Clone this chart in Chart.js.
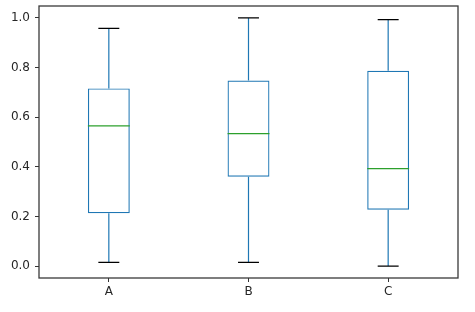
<!DOCTYPE html>
<html>
<head>
<meta charset="utf-8">
<script src="https://cdn.jsdelivr.net/npm/chart.js@4"></script>
<style>
  body { margin: 0; background: #fff; }
</style>
</head>
<body>
<canvas id="myChart" width="475" height="312"></canvas>
<script>
// box plot values
var categories = ['A', 'B', 'C']
var whiskerLow = [0.015, 0.015, 0.0]
var q1 = [0.213, 0.360, 0.227]
var median = [0.565, 0.534, 0.393]
var q3 = [0.716, 0.748, 0.787]
var whiskerHigh = [0.958, 1.0, 0.993]
var yTicks = [0.0, 0.2, 0.4, 0.6, 0.8, 1.0]

var boxColor = '#1f77b4', medianColor = '#2ca02c', capColor = '#000000'

// whiskers, caps and medians drawn on top of the floating bars
const boxParts = {
  id: 'boxParts',
  afterDatasetsDraw(chart) {
    const ctx = chart.ctx
    const x = chart.scales.x, y = chart.scales.y
    const meta = chart.getDatasetMeta(0)
    ctx.save()
    ctx.lineWidth = 1.2
    categories.forEach((c, i) => {
      const bar = meta.data[i]
      const cx = x.getPixelForValue(i)
      const half = bar.width / 2
      const capHalf = half / 2
      // whiskers
      ctx.strokeStyle = boxColor
      ctx.beginPath()
      ctx.moveTo(cx, y.getPixelForValue(q1[i]))
      ctx.lineTo(cx, y.getPixelForValue(whiskerLow[i]))
      ctx.moveTo(cx, y.getPixelForValue(q3[i]))
      ctx.lineTo(cx, y.getPixelForValue(whiskerHigh[i]))
      ctx.stroke()
      // caps
      ctx.strokeStyle = capColor
      ctx.beginPath()
      ctx.moveTo(cx - capHalf, y.getPixelForValue(whiskerLow[i]))
      ctx.lineTo(cx + capHalf, y.getPixelForValue(whiskerLow[i]))
      ctx.moveTo(cx - capHalf, y.getPixelForValue(whiskerHigh[i]))
      ctx.lineTo(cx + capHalf, y.getPixelForValue(whiskerHigh[i]))
      ctx.stroke()
      // median
      ctx.strokeStyle = medianColor
      ctx.beginPath()
      ctx.moveTo(cx - half, y.getPixelForValue(median[i]))
      ctx.lineTo(cx + half, y.getPixelForValue(median[i]))
      ctx.stroke()
    })
    ctx.restore()
  }
}

// axes frame on all four sides
const frame = {
  id: 'frame',
  afterDraw(chart) {
    const a = chart.chartArea, ctx = chart.ctx
    ctx.save()
    ctx.strokeStyle = '#3a3a3a'
    ctx.lineWidth = 1.3
    ctx.strokeRect(a.left, a.top, a.right - a.left, a.bottom - a.top)
    ctx.restore()
  }
}

const ctx = document.getElementById('myChart').getContext('2d')

const chart = new Chart(ctx, {
  type: 'bar',
  data: {
    labels: categories,
    datasets: [{
      data: categories.map((c, i) => [q1[i], q3[i]]),
      backgroundColor: 'rgba(0,0,0,0)',
      borderColor: boxColor,
      borderWidth: 1.2,
      borderSkipped: false,
      barPercentage: 0.3,
      categoryPercentage: 1.0
    }]
  },
  options: {
    responsive: false,
    animation: false,
    devicePixelRatio: 1,
    layout: { padding: { top: 6, right: 17, left: 0, bottom: 0 } },
    plugins: { legend: { display: false }, tooltip: { enabled: false } },
    scales: {
      x: {
        offset: true,
        grid: { offset: false, drawOnChartArea: false, drawTicks: true, tickLength: 4, tickColor: '#333' },
        border: { display: false },
        ticks: { color: '#262626', padding: 3, font: { family: 'DejaVu Sans', size: 12 } },
        afterFit(scale) {
          scale.height = 34
          scale.paddingLeft = 0
          scale.paddingRight = 0
        }
      },
      y: {
        min: -0.048,
        max: 1.048,
        grid: { drawOnChartArea: false, drawTicks: true, tickLength: 4, tickColor: '#333' },
        border: { display: false },
        afterBuildTicks(scale) { scale.ticks = yTicks.map(v => ({ value: v })) },
        ticks: {
          color: '#262626',
          padding: 5,
          font: { family: 'DejaVu Sans', size: 12 },
          callback: v => v.toFixed(1)
        },
        afterFit(scale) {
          scale.width = 39
          scale.paddingTop = 0
          scale.paddingBottom = 0
        }
      }
    }
  },
  plugins: [boxParts, frame]
})
</script>
</body>
</html>
